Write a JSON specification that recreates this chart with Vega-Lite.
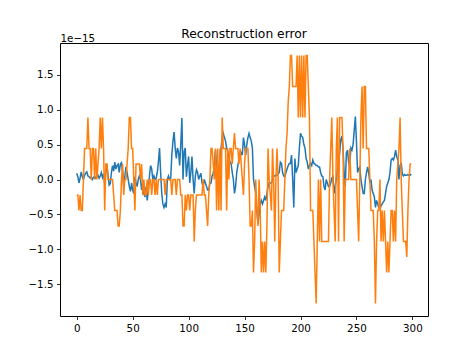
{
  "$schema": "https://vega.github.io/schema/vega-lite/v6.json",
  "autosize": "none",
  "width": 368,
  "height": 273,
  "padding": {"left": 60, "top": 43, "right": 46, "bottom": 39},
  "background": "white",
  "title": {"text": "Reconstruction error", "fontSize": 12.3, "font": "DejaVu Sans", "fontWeight": "normal", "color": "black", "offset": -7, "anchor": "middle"},
  "config": {
    "view": {"stroke": "black", "strokeWidth": 1},
    "axis": {"domain": false, "grid": false, "tickColor": "black", "tickSize": 3.5, "tickWidth": 0.8, "labelPadding": 3.5, "labelFont": "DejaVu Sans", "labelFontSize": 10.3, "labelColor": "black", "titleFont": "DejaVu Sans", "titleFontSize": 10.3, "titleFontWeight": "normal", "titleColor": "black"}
  },
  "data": {"values": [
{"i":0,"a":0.09,"b":-0.222},{"i":1,"a":0.04,"b":-0.222},{"i":2,"a":-0.05,"b":-0.444},{"i":3,"a":0.02,"b":-0.222},{"i":4,"a":0.11,"b":-0.444},{"i":5,"a":0.04,"b":-0.444},{"i":6,"a":0,"b":0},{"i":7,"a":0.06,"b":0.444},{"i":8,"a":0.09,"b":0.444},{"i":9,"a":0.11,"b":0.444},
{"i":10,"a":0.05,"b":0.888},{"i":11,"a":0.04,"b":0.444},{"i":12,"a":0.02,"b":0.444},{"i":13,"a":0.04,"b":0},{"i":14,"a":0,"b":0.444},{"i":15,"a":0.03,"b":0.444},{"i":16,"a":0.05,"b":0},{"i":17,"a":0.02,"b":0.444},{"i":18,"a":0.04,"b":0},{"i":19,"a":0.06,"b":0.222},
{"i":20,"a":0.02,"b":0.444},{"i":21,"a":0.05,"b":0.888},{"i":22,"a":0.1,"b":0.444},{"i":23,"a":0.03,"b":0.888},{"i":24,"a":0.08,"b":0.444},{"i":25,"a":-0.05,"b":-0.444},{"i":26,"a":0.1,"b":0.222},{"i":27,"a":0.22,"b":0.222},{"i":28,"a":0.05,"b":0},{"i":29,"a":-0.08,"b":0},
{"i":30,"a":-0.06,"b":0},{"i":31,"a":0.1,"b":0},{"i":32,"a":0.2,"b":0},{"i":33,"a":0.12,"b":-0.222},{"i":34,"a":0.25,"b":-0.444},{"i":35,"a":0.15,"b":-0.444},{"i":36,"a":0.2,"b":-0.444},{"i":37,"a":0.22,"b":-0.666},{"i":38,"a":0.1,"b":-0.666},{"i":39,"a":0.22,"b":-0.444},
{"i":40,"a":0.24,"b":0},{"i":41,"a":0.1,"b":0.222},{"i":42,"a":-0.1,"b":-0.222},{"i":43,"a":0.05,"b":0},{"i":44,"a":0.18,"b":0},{"i":45,"a":0.1,"b":0.222},{"i":46,"a":0,"b":0.444},{"i":47,"a":-0.1,"b":0.888},{"i":48,"a":-0.17,"b":0.888},{"i":49,"a":-0.05,"b":0.444},
{"i":50,"a":-0.15,"b":0.444},{"i":51,"a":-0.2,"b":0},{"i":52,"a":0.04,"b":-0.444},{"i":53,"a":-0.05,"b":0.222},{"i":54,"a":-0.1,"b":0.222},{"i":55,"a":0,"b":0.222},{"i":56,"a":0.05,"b":0.222},{"i":57,"a":0,"b":0},{"i":58,"a":-0.15,"b":0.222},{"i":59,"a":-0.05,"b":-0.222},
{"i":60,"a":-0.2,"b":0},{"i":61,"a":-0.25,"b":-0.222},{"i":62,"a":-0.1,"b":-0.222},{"i":63,"a":-0.3,"b":0},{"i":64,"a":-0.15,"b":-0.222},{"i":65,"a":0.05,"b":0},{"i":66,"a":0.2,"b":0},{"i":67,"a":0.15,"b":-0.222},{"i":68,"a":0,"b":0},{"i":69,"a":0.05,"b":0},
{"i":70,"a":0,"b":-0.222},{"i":71,"a":0.02,"b":0},{"i":72,"a":0.1,"b":-0.222},{"i":73,"a":0.25,"b":0},{"i":74,"a":0.45,"b":0},{"i":75,"a":0.1,"b":0},{"i":76,"a":-0.2,"b":0},{"i":77,"a":-0.35,"b":0},{"i":78,"a":-0.4,"b":0},{"i":79,"a":-0.35,"b":-0.222},
{"i":80,"a":-0.4,"b":0},{"i":81,"a":0,"b":0},{"i":82,"a":0.05,"b":0},{"i":83,"a":0,"b":0},{"i":84,"a":0.02,"b":0},{"i":85,"a":0.35,"b":-0.222},{"i":86,"a":0.55,"b":0},{"i":87,"a":0.68,"b":0},{"i":88,"a":0.45,"b":0},{"i":89,"a":0.3,"b":-0.222},
{"i":90,"a":0.45,"b":0},{"i":91,"a":0.4,"b":0},{"i":92,"a":0.2,"b":0},{"i":93,"a":0.5,"b":-0.222},{"i":94,"a":0.88,"b":-0.222},{"i":95,"a":0,"b":-0.666},{"i":96,"a":0.4,"b":-0.666},{"i":97,"a":0.45,"b":-0.222},{"i":98,"a":0.04,"b":-0.444},{"i":99,"a":0.2,"b":-0.222},
{"i":100,"a":0.33,"b":-0.222},{"i":101,"a":-0.05,"b":-0.444},{"i":102,"a":0.1,"b":-0.222},{"i":103,"a":0.33,"b":-0.222},{"i":104,"a":0,"b":-0.222},{"i":105,"a":-0.2,"b":-0.888},{"i":106,"a":0.05,"b":-0.444},{"i":107,"a":0.14,"b":-0.222},{"i":108,"a":0.1,"b":-0.222},{"i":109,"a":0,"b":-0.222},
{"i":110,"a":0.05,"b":-0.222},{"i":111,"a":0.09,"b":-0.222},{"i":112,"a":-0.05,"b":-0.222},{"i":113,"a":-0.1,"b":0},{"i":114,"a":0,"b":-0.222},{"i":115,"a":-0.05,"b":-0.222},{"i":116,"a":-0.1,"b":-0.444},{"i":117,"a":-0.15,"b":-0.666},{"i":118,"a":-0.15,"b":-0.222},{"i":119,"a":-0.05,"b":0},
{"i":120,"a":-0.05,"b":0.444},{"i":121,"a":0.05,"b":0.444},{"i":122,"a":0.09,"b":0.222},{"i":123,"a":0.2,"b":0},{"i":124,"a":0.42,"b":0.444},{"i":125,"a":0.2,"b":-0.444},{"i":126,"a":0,"b":0.444},{"i":127,"a":0.1,"b":-0.444},{"i":128,"a":0.3,"b":0.444},{"i":129,"a":0.45,"b":-0.444},
{"i":130,"a":0.6,"b":0.888},{"i":131,"a":0.66,"b":0.444},{"i":132,"a":0.6,"b":0.444},{"i":133,"a":0.55,"b":0.444},{"i":134,"a":0.45,"b":-0.444},{"i":135,"a":0.4,"b":0.444},{"i":136,"a":0.3,"b":0},{"i":137,"a":0.25,"b":0.444},{"i":138,"a":0.23,"b":0.444},{"i":139,"a":0.1,"b":0.222},
{"i":140,"a":0,"b":0.444},{"i":141,"a":-0.2,"b":0.666},{"i":142,"a":-0.1,"b":0.444},{"i":143,"a":0.1,"b":0.444},{"i":144,"a":0.2,"b":0.444},{"i":145,"a":0.28,"b":0.222},{"i":146,"a":0.3,"b":0.444},{"i":147,"a":0.4,"b":0.222},{"i":148,"a":0.35,"b":0},{"i":149,"a":0.6,"b":-0.222},
{"i":150,"a":0.5,"b":0.222},{"i":151,"a":0.35,"b":0.444},{"i":152,"a":0.5,"b":0.444},{"i":153,"a":0.6,"b":0.444},{"i":154,"a":0.66,"b":0},{"i":155,"a":0.6,"b":-0.666},{"i":156,"a":0.55,"b":-0.666},{"i":157,"a":0.45,"b":-0.444},{"i":158,"a":0,"b":-1.332},{"i":159,"a":-0.1,"b":-0.888},
{"i":160,"a":-0.2,"b":0},{"i":161,"a":-0.45,"b":-0.444},{"i":162,"a":-0.63,"b":-0.666},{"i":163,"a":-0.5,"b":0},{"i":164,"a":-0.35,"b":-0.444},{"i":165,"a":-0.3,"b":-1.332},{"i":166,"a":-0.35,"b":-0.888},{"i":167,"a":-0.3,"b":-1.332},{"i":168,"a":-0.25,"b":-0.888},{"i":169,"a":-0.3,"b":-1.332},
{"i":170,"a":-0.2,"b":-0.666},{"i":171,"a":-0.1,"b":0.444},{"i":172,"a":-0.05,"b":0},{"i":173,"a":-0.05,"b":-0.222},{"i":174,"a":-0.05,"b":-0.444},{"i":175,"a":0,"b":0.444},{"i":176,"a":0.05,"b":0},{"i":177,"a":0.05,"b":-0.888},{"i":178,"a":0.06,"b":0},{"i":179,"a":0.06,"b":0.444},
{"i":180,"a":0.08,"b":0},{"i":181,"a":0.1,"b":-1.332},{"i":182,"a":0.25,"b":-0.888},{"i":183,"a":0.23,"b":-0.444},{"i":184,"a":0.1,"b":-0.444},{"i":185,"a":0.05,"b":-0.444},{"i":186,"a":0.04,"b":0},{"i":187,"a":0.1,"b":0.444},{"i":188,"a":0.15,"b":0.666},{"i":189,"a":0.2,"b":1.11},
{"i":190,"a":0.23,"b":1.332},{"i":191,"a":0.23,"b":1.776},{"i":192,"a":0.35,"b":1.776},{"i":193,"a":0,"b":1.332},{"i":194,"a":-0.4,"b":1.332},{"i":195,"a":0.3,"b":1.332},{"i":196,"a":0.1,"b":1.332},{"i":197,"a":0.15,"b":1.776},{"i":198,"a":0.2,"b":0.888},{"i":199,"a":0.45,"b":1.776},
{"i":200,"a":0.66,"b":0.888},{"i":201,"a":0.62,"b":1.776},{"i":202,"a":0.6,"b":0.888},{"i":203,"a":0.5,"b":1.776},{"i":204,"a":0.45,"b":0.888},{"i":205,"a":0.3,"b":1.776},{"i":206,"a":0.25,"b":1.776},{"i":207,"a":0.15,"b":1.332},{"i":208,"a":0.2,"b":0.888},{"i":209,"a":0.23,"b":-0.444},
{"i":210,"a":0.2,"b":-0.444},{"i":211,"a":0.28,"b":-0.444},{"i":212,"a":0.23,"b":-0.888},{"i":213,"a":0.22,"b":-1.332},{"i":214,"a":0.2,"b":-1.776},{"i":215,"a":0.2,"b":-0.888},{"i":216,"a":0.18,"b":0},{"i":217,"a":0.18,"b":-0.888},{"i":218,"a":0.1,"b":0},{"i":219,"a":0.05,"b":-0.888},
{"i":220,"a":0.04,"b":-0.888},{"i":221,"a":-0.1,"b":-0.888},{"i":222,"a":-0.15,"b":-0.888},{"i":223,"a":0,"b":-0.888},{"i":224,"a":-0.05,"b":-0.888},{"i":225,"a":-0.1,"b":-0.888},{"i":226,"a":-0.1,"b":0},{"i":227,"a":-0.05,"b":0.444},{"i":228,"a":0.02,"b":0.888},{"i":229,"a":0.04,"b":0},
{"i":230,"a":-0.2,"b":-0.444},{"i":231,"a":-0.1,"b":-0.888},{"i":232,"a":0,"b":0.444},{"i":233,"a":0.14,"b":0.888},{"i":234,"a":0.25,"b":-0.888},{"i":235,"a":0.38,"b":0.888},{"i":236,"a":0.57,"b":0.888},{"i":237,"a":0.62,"b":0.888},{"i":238,"a":0.45,"b":0.444},{"i":239,"a":0.1,"b":-0.888},
{"i":240,"a":-0.1,"b":0},{"i":241,"a":0.38,"b":0},{"i":242,"a":0.42,"b":0},{"i":243,"a":0.25,"b":0},{"i":244,"a":0.18,"b":0.444},{"i":245,"a":0.45,"b":0},{"i":246,"a":0.42,"b":0},{"i":247,"a":0.5,"b":0},{"i":248,"a":0.7,"b":0},{"i":249,"a":0.9,"b":0},
{"i":250,"a":0.55,"b":0},{"i":251,"a":0.1,"b":-0.444},{"i":252,"a":0.15,"b":-0.888},{"i":253,"a":0.18,"b":0},{"i":254,"a":0,"b":0.888},{"i":255,"a":-0.1,"b":1.332},{"i":256,"a":-0.2,"b":0.444},{"i":257,"a":-0.2,"b":1.332},{"i":258,"a":0,"b":1.332},{"i":259,"a":0.1,"b":0.444},
{"i":260,"a":0.18,"b":0.444},{"i":261,"a":0.09,"b":0.444},{"i":262,"a":-0.05,"b":0},{"i":263,"a":0,"b":-0.444},{"i":264,"a":-0.15,"b":-0.444},{"i":265,"a":-0.2,"b":-0.444},{"i":266,"a":-0.25,"b":-0.888},{"i":267,"a":-0.4,"b":-1.776},{"i":268,"a":-0.3,"b":-0.888},{"i":269,"a":-0.35,"b":-0.444},
{"i":270,"a":-0.4,"b":-0.444},{"i":271,"a":-0.35,"b":0},{"i":272,"a":-0.38,"b":-0.888},{"i":273,"a":-0.35,"b":-0.444},{"i":274,"a":-0.32,"b":-0.888},{"i":275,"a":-0.3,"b":-0.444},{"i":276,"a":-0.2,"b":-0.888},{"i":277,"a":-0.1,"b":-1.332},{"i":278,"a":-0.05,"b":-0.888},{"i":279,"a":0,"b":-1.332},
{"i":280,"a":0.1,"b":-0.888},{"i":281,"a":0.28,"b":-0.444},{"i":282,"a":0.3,"b":-0.444},{"i":283,"a":0.28,"b":-0.888},{"i":284,"a":0.33,"b":-0.444},{"i":285,"a":0.42,"b":-0.888},{"i":286,"a":0.33,"b":0},{"i":287,"a":0.28,"b":0.222},{"i":288,"a":0,"b":0.444},{"i":289,"a":0.2,"b":0.888},
{"i":290,"a":0.24,"b":0},{"i":291,"a":0.08,"b":-0.444},{"i":292,"a":0.05,"b":-0.888},{"i":293,"a":0.07,"b":-0.888},{"i":294,"a":0.06,"b":-0.888},{"i":295,"a":0.06,"b":-1.11},{"i":296,"a":0.07,"b":-0.444},{"i":297,"a":0.06,"b":0},{"i":298,"a":0.06,"b":0.222},{"i":299,"a":0.08,"b":0.222}
  ]},
  "encoding": {
    "x": {"field": "i", "type": "quantitative", "scale": {"domain": [-14.95, 313.95], "nice": false, "zero": false}, "axis": {"values": [0, 50, 100, 150, 200, 250, 300], "format": "d", "title": null}}
  },
  "layer": [
    {"mark": {"type": "line", "color": "#1f77b4", "strokeWidth": 1.5, "clip": true},
     "encoding": {"y": {"field": "a", "type": "quantitative", "scale": {"domain": [-1.954, 1.954], "nice": false, "zero": false},
       "axis": {"values": [-1.5, -1, -0.5, 0, 0.5, 1, 1.5], "format": ".1f", "title": "1e\u221215", "titleAngle": 0, "titleAlign": "left", "titleBaseline": "alphabetic", "titleX": 0, "titleY": -2}}}},
    {"mark": {"type": "line", "color": "#ff7f0e", "strokeWidth": 1.5, "clip": true},
     "encoding": {"y": {"field": "b", "type": "quantitative"}}}
  ]
}
